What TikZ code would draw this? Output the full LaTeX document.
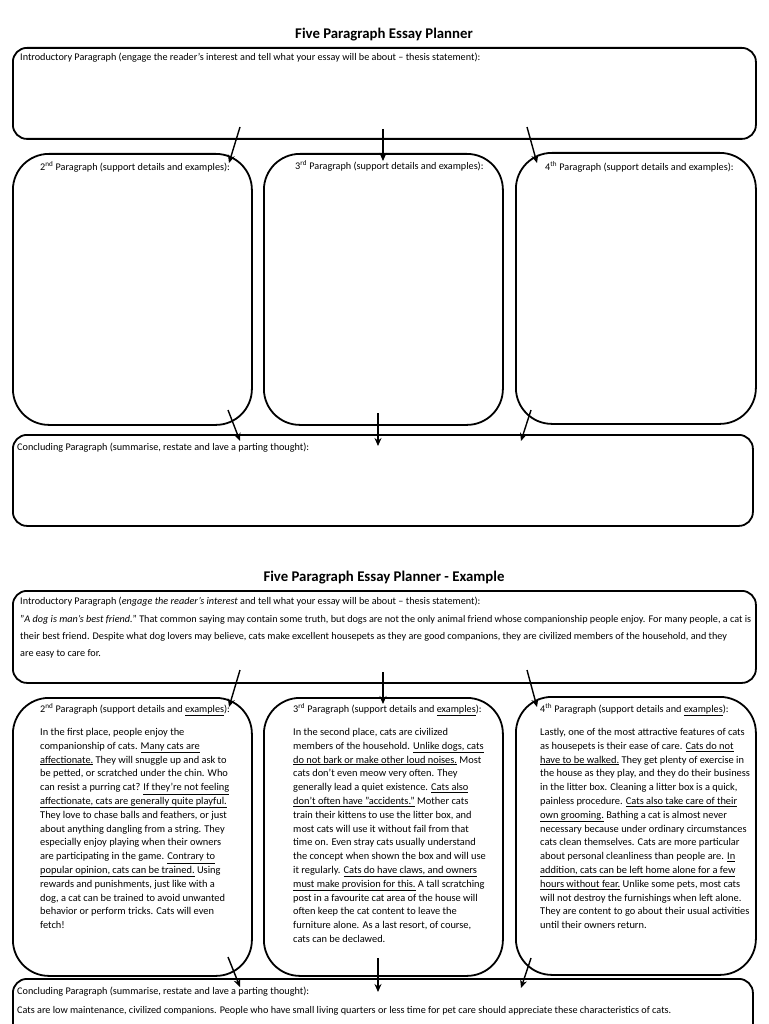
\documentclass[tikz,border=0pt]{standalone}
\usepackage{fontspec}
\setmainfont{Carlito}
\usetikzlibrary{arrows.meta}
\begin{document}
\begin{tikzpicture}[x=1pt,y=-1pt,
  ibox/.style={draw, line width=1.8pt, rounded corners=14pt, inner sep=0pt, anchor=north west},
  pbox/.style={draw, line width=1.8pt, rounded corners=36pt, inner sep=0pt, anchor=north west},
  ttl/.style={font=\fontsize{14.8}{17}\selectfont\bfseries, inner sep=0pt},
  lbl/.style={anchor=west, font=\fontsize{10.2}{12}\selectfont, inner sep=0pt},
  txt/.style={anchor=north west, align=left, font=\fontsize{10.4}{13.8}\selectfont, inner sep=0pt},
  itxt/.style={anchor=north west, align=left, font=\fontsize{10.2}{17}\selectfont, inner sep=0pt},
  arr/.style={line width=1.4pt, -{Stealth[length=8pt,width=7pt]}}]
\useasboundingbox (0,0) rectangle (768,1024);
\clip (0,0) rectangle (768,1024);
\fill[white] (0,0) rectangle (768,1024);

% ===== Top planner =====
\node[ttl] (title1) at (384,35) {Five Paragraph Essay Planner};
\node[ibox, minimum width=743pt, minimum height=91pt] (intro1) at (12,47) {};
\node[lbl] (intro1l) at (20,58) {Introductory Paragraph (engage the reader’s interest and tell what your essay will be about – thesis statement):};

\node[pbox, minimum width=239pt, minimum height=271pt] (p2a) at (12,153) {};
\node[pbox, minimum width=239pt, minimum height=271pt] (p3a) at (263,153) {};
\node[pbox, minimum width=240pt, minimum height=271pt] (p4a) at (515,152) {};
\node[lbl] (p2al) at (40,167) {2\textsuperscript{nd} Paragraph (support details and examples):};
\node[lbl] (p3al) at (295,166) {3\textsuperscript{rd} Paragraph (support details and examples):};
\node[lbl] (p4al) at (545,167) {4\textsuperscript{th} Paragraph (support details and examples):};

\node[ibox, minimum width=740pt, minimum height=91pt] (conc1) at (12,434) {};
\node[lbl] (conc1l) at (17,448) {Concluding Paragraph (summarise, restate and lave a parting thought):};

\coordinate (a1s) at (240,127); \coordinate (a1e) at (229,163);
\coordinate (a2s) at (383,129); \coordinate (a2e) at (383,161);
\coordinate (a3s) at (527,127); \coordinate (a3e) at (537,163);
\draw[arr] (a1s) -- (a1e);
\draw[arr] (a2s) -- (a2e);
\draw[arr] (a3s) -- (a3e);
\coordinate (b1s) at (228,410); \coordinate (b1e) at (240,441);
\coordinate (b2s) at (378,413); \coordinate (b2e) at (378,446);
\coordinate (b3s) at (531,410); \coordinate (b3e) at (521,441);
\draw[arr] (b1s) -- (b1e);
\draw[arr] (b2s) -- (b2e);
\draw[arr] (b3s) -- (b3e);

% ===== Example planner =====
\node[ttl] (title2) at (384,578) {Five Paragraph Essay Planner - Example};
\node[ibox, minimum width=743pt, minimum height=92pt] (intro2) at (12,590) {};
\node[lbl] (intro2l) at (20,602) {Introductory Paragraph (\textit{engage the reader’s interest} and tell what your essay will be about – thesis statement):};
\node[itxt] (intro2t) at (20,615) {"\textit{A dog is man’s best friend.}" That common saying may contain some truth, but dogs are not the only animal friend whose companionship people enjoy. For many people, a cat is\\
their best friend. Despite what dog lovers may believe, cats make excellent housepets as they are good companions, they are civilized members of the household, and they\\
are easy to care for.};

\node[pbox, minimum width=239pt, minimum height=278pt] (p2b) at (12,697) {};
\node[pbox, minimum width=239pt, minimum height=278pt] (p3b) at (263,697) {};
\node[pbox, minimum width=240pt, minimum height=278pt] (p4b) at (515,696) {};
\node[lbl] (p2bl) at (40,710) {2\textsuperscript{nd} Paragraph (support details and \underline{examples}):};
\node[lbl] (p3bl) at (293,710) {3\textsuperscript{rd} Paragraph (support details and \underline{examples}):};
\node[lbl] (p4bl) at (540,710) {4\textsuperscript{th} Paragraph (support details and \underline{examples}):};

\node[txt] (p2bt) at (40,728) {In the first place, people enjoy the\\
companionship of cats. \underline{Many cats are}\\
\underline{affectionate.} They will snuggle up and ask to\\
be petted, or scratched under the chin. Who\\
can resist a purring cat? \underline{If they’re not feeling}\\
\underline{affectionate, cats are generally quite playful.}\\
They love to chase balls and feathers, or just\\
about anything dangling from a string. They\\
especially enjoy playing when their owners\\
are participating in the game. \underline{Contrary to}\\
\underline{popular opinion, cats can be trained.} Using\\
rewards and punishments, just like with a\\
dog, a cat can be trained to avoid unwanted\\
behavior or perform tricks. Cats will even\\
fetch!};

\node[txt] (p3bt) at (293,728) {In the second place, cats are civilized\\
members of the household. \underline{Unlike dogs, cats}\\
\underline{do not bark or make other loud noises.} Most\\
cats don’t even meow very often. They\\
generally lead a quiet existence. \underline{Cats also}\\
\underline{don’t often have "accidents."} Mother cats\\
train their kittens to use the litter box, and\\
most cats will use it without fail from that\\
time on. Even stray cats usually understand\\
the concept when shown the box and will use\\
it regularly. \underline{Cats do have claws, and owners}\\
\underline{must make provision for this.} A tall scratching\\
post in a favourite cat area of the house will\\
often keep the cat content to leave the\\
furniture alone. As a last resort, of course,\\
cats can be declawed.};

\node[txt] (p4bt) at (540,728) {Lastly, one of the most attractive features of cats\\
as housepets is their ease of care. \underline{Cats do not}\\
\underline{have to be walked.} They get plenty of exercise in\\
the house as they play, and they do their business\\
in the litter box. Cleaning a litter box is a quick,\\
painless procedure. \underline{Cats also take care of their}\\
\underline{own grooming.} Bathing a cat is almost never\\
necessary because under ordinary circumstances\\
cats clean themselves. Cats are more particular\\
about personal cleanliness than people are. \underline{In}\\
\underline{addition, cats can be left home alone for a few}\\
\underline{hours without fear.} Unlike some pets, most cats\\
will not destroy the furnishings when left alone.\\
They are content to go about their usual activities\\
until their owners return.};

\node[ibox, minimum width=740pt, minimum height=92pt] (conc2) at (12,978) {};
\node[lbl] (conc2l) at (17,992) {Concluding Paragraph (summarise, restate and lave a parting thought):};
\node[lbl] (conc2t) at (17,1011) {Cats are low maintenance, civilized companions. People who have small living quarters or less time for pet care should appreciate these characteristics of cats.};

\coordinate (c1s) at (240,670); \coordinate (c1e) at (229,707);
\coordinate (c2s) at (383,672); \coordinate (c2e) at (383,704);
\coordinate (c3s) at (527,670); \coordinate (c3e) at (537,707);
\draw[arr] (c1s) -- (c1e);
\draw[arr] (c2s) -- (c2e);
\draw[arr] (c3s) -- (c3e);
\coordinate (d1s) at (228,957); \coordinate (d1e) at (240,987);
\coordinate (d2s) at (378,958); \coordinate (d2e) at (378,992);
\coordinate (d3s) at (531,958); \coordinate (d3e) at (521,988);
\draw[arr] (d1s) -- (d1e);
\draw[arr] (d2s) -- (d2e);
\draw[arr] (d3s) -- (d3e);
\end{tikzpicture}
\end{document}
